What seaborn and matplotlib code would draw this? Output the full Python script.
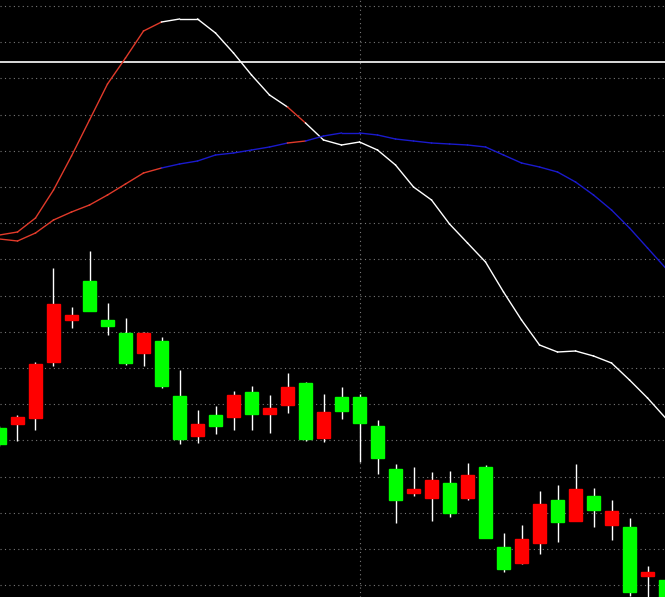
import numpy as np
import pandas as pd
import matplotlib
matplotlib.use("Agg")
import matplotlib.pyplot as plt
import seaborn as sns

# candle values (chart units, larger = lower on screen, axis inverted)
opens  = [428,424,418,362,320,281,320,333,353,341,396,436,415,417,392,414,405,383,438,397,397,426,469,493,498,483,498,467,547,563,543,500,521,496,525,527,575,580]
closes = [444,417,364,304,315,311,326,363,333,386,439,424,426,395,414,408,387,439,412,411,423,458,500,489,480,513,475,538,569,539,504,522,489,510,511,592,572,600]
highs  = [426,415,362,268,307,251,303,318,332,337,370,410,406,391,386,395,373,382,394,387,394,420,464,467,472,471,463,465,533,525,491,485,464,488,500,518,566,578]
lows   = [446,441,430,366,328,311,335,365,366,388,444,443,434,430,430,433,413,441,442,419,462,474,523,496,521,517,500,538,572,564,554,542,521,527,540,596,600,605]
fast   = [235,232,218,190,156,120,84,58,31,22,19,19,33,53,75,95,107,123,140,145,142,150,165,187,200,224,243,262,292,320,345,352,351,356,363,380,398,418]
slow   = [239,241,233,220,212,205,195,184,173,168,164,161,155,153,150,147,143,141,136,133,133,135,139,141,143,144,145,147,155,163,167,172,182,195,210,228,248,268]
level  = 62
red_spans = [(0, 9), (16, 17)]

idx = np.arange(len(opens))
df = pd.DataFrame({"i": idx, "fast": fast, "slow": slow})

fig = plt.figure(figsize=(6.65, 5.97), dpi=100, facecolor="black")
ax = fig.add_axes([0, 0, 1, 1])
ax.set_facecolor("black")

for g in np.arange(6, 597, 36.2):
    ax.axhline(g, color="#777777", lw=0.8, ls=(0, (1, 3)), zorder=0)
ax.axvline(20, color="#777777", lw=0.8, ls=(0, (1, 3)), zorder=0)
ax.axhline(level, color="white", lw=1.2, zorder=1)

def seg_color(i, base):
    for a, b in red_spans:
        if a <= i < b:
            return "#e03a2a"
    return base

for col, base in [("fast", "white"), ("slow", "#1a1acc")]:
    for i in range(len(idx) - 1):
        sub = df.iloc[i:i + 2]
        sns.lineplot(data=sub, x="i", y=col, ax=ax, color=seg_color(i, base), lw=1.0, zorder=2)

for i in idx:
    o, c, h, l = opens[i], closes[i], highs[i], lows[i]
    up = c < o
    color = "#ff0000" if up else "#00ff00"
    ax.vlines(i, h, l, color="white", lw=1.0, zorder=3)
    ax.bar(i, abs(o - c) if abs(o - c) > 3 else 4, bottom=min(o, c), width=0.72,
           color=color, edgecolor=color, zorder=4)

ax.set_xlim(0.028, 36.97)
ax.set_ylim(597, 0)
ax.set_axis_off()
fig.savefig("out.png", dpi=100, facecolor="black")
